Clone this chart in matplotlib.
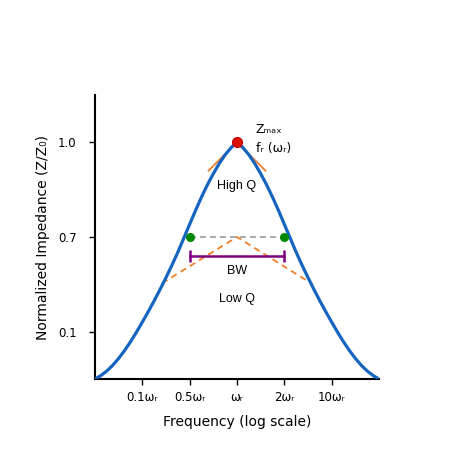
import matplotlib
matplotlib.use("Agg")
import matplotlib.pyplot as plt

# Resonance curve (x: evenly spaced log-frequency index 0..6, resonance at 3)
curve_x = [0.0, 0.125, 0.25, 0.375, 0.5, 0.625, 0.75, 0.875, 1.0, 1.125, 1.25, 1.375,
           1.5, 1.625, 1.75, 1.875, 2.0, 2.125, 2.25, 2.375, 2.5, 2.625, 2.75, 2.875,
           3.0,
           3.125, 3.25, 3.375, 3.5, 3.625, 3.75, 3.875, 4.0, 4.125, 4.25, 4.375, 4.5,
           4.625, 4.75, 4.875, 5.0, 5.125, 5.25, 5.375, 5.5, 5.625, 5.75, 5.875, 6.0]
curve_y = [0.0, 0.015, 0.034, 0.058, 0.087, 0.12, 0.157, 0.197, 0.24, 0.284, 0.33, 0.378,
           0.428, 0.48, 0.535, 0.594, 0.653, 0.712, 0.768, 0.82, 0.867, 0.91, 0.947, 0.977,
           1.0,
           0.977, 0.947, 0.91, 0.867, 0.82, 0.768, 0.712, 0.653, 0.594, 0.535, 0.48, 0.428,
           0.378, 0.33, 0.284, 0.24, 0.197, 0.157, 0.12, 0.087, 0.058, 0.034, 0.015, 0.0]

x_tick_pos = [1, 2, 3, 4, 5]
x_tick_labels = ["0.1ωᵣ", "0.5ωᵣ", "ωᵣ", "2ωᵣ", "10ωᵣ"]
y_tick_pos = [0.2, 0.6, 1.0]
y_tick_labels = ["0.1", "0.7", "1.0"]

peak = (3, 1.0)
half_power_x = [2, 4]
half_power_y = [0.6, 0.6]
high_q_x = [2.4, 3.0, 3.6]
high_q_y = [0.88, 1.0, 0.88]
low_q_x = [1.42, 3.0, 4.6]
low_q_y = [0.405, 0.6, 0.40]
bw_x = [2, 4]
bw_y = 0.52

ann_font = ["Liberation Sans", "DejaVu Sans"]

fig = plt.figure(figsize=(4.74, 4.74), dpi=100)
ax = fig.add_axes([0.2, 0.2, 0.6, 0.6])

ax.plot(curve_x, curve_y, color="#1565C0", lw=2.3, solid_capstyle="round", zorder=3)
ax.plot(high_q_x, high_q_y, color="#F07F2A", lw=1.3, zorder=2)
ax.plot(low_q_x, low_q_y, color="#F07F2A", lw=1.3, ls=(0, (3.5, 2.5)), zorder=2)
ax.plot(half_power_x, half_power_y, color="#999999", lw=1.2, ls=(0, (3.5, 2.5)), zorder=2)
ax.plot(half_power_x, half_power_y, "o", color="#008800", ms=5.5, zorder=4)
ax.plot([peak[0]], [peak[1]], "o", color="#DD1100", mec="#CC0000", ms=7, zorder=5)
ax.plot(bw_x, [bw_y, bw_y], color="#800080", lw=1.8, marker="|", ms=9, mew=1.8, zorder=3)

ax.text(3, 0.456, "BW", ha="center", va="center", fontsize=9, family=ann_font)
ax.text(3, 0.338, "Low Q", ha="center", va="center", fontsize=9, family=ann_font)
ax.text(3, 0.814, "High Q", ha="center", va="center", fontsize=9, family=ann_font)
ax.text(3.4, 1.055, "Zₘₐₓ", ha="left", va="center", fontsize=9, family=["DejaVu Sans"])
ax.text(3.4, 0.975, "fᵣ (ωᵣ)", ha="left", va="center", fontsize=9, family=["DejaVu Sans"])

ax.set_xlim(0, 6)
ax.set_ylim(0, 1.2)
ax.set_xticks(x_tick_pos)
ax.set_xticklabels(x_tick_labels)
ax.set_yticks(y_tick_pos)
ax.set_yticklabels(y_tick_labels)
ax.tick_params(labelsize=8.5, length=4, width=1)
ax.tick_params(axis="x", pad=4.5)
ax.tick_params(axis="y", pad=9)
for s in ["top", "right"]:
    ax.spines[s].set_visible(False)
for s in ["left", "bottom"]:
    ax.spines[s].set_linewidth(1.5)

ax.set_xlabel("Frequency (log scale)", fontsize=10, labelpad=8)
ax.set_ylabel("Normalized Impedance (Z/Z₀)", fontsize=10, labelpad=6)

fig.savefig("out.png", dpi=100)
